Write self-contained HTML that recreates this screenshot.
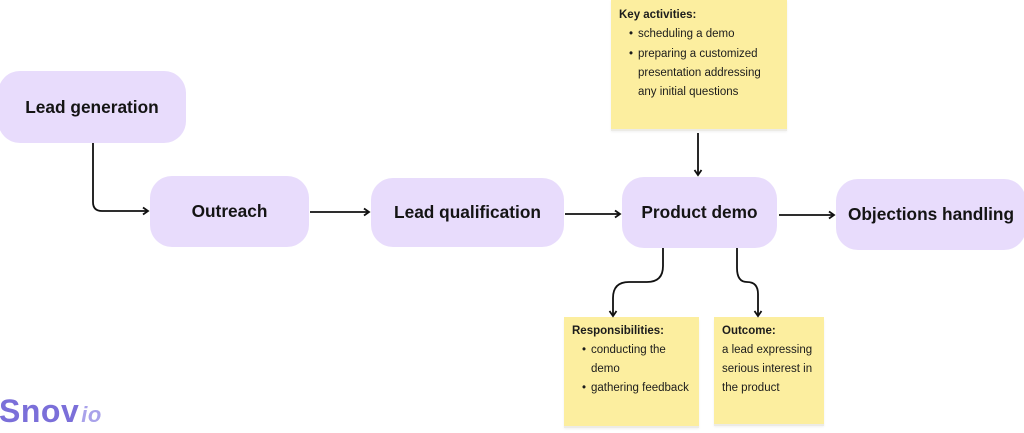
<!DOCTYPE html>
<html>
<head>
<meta charset="utf-8">
<style>
  html,body{margin:0;padding:0;}
  body{width:1024px;height:431px;background:#ffffff;position:relative;overflow:hidden;font-family:"Liberation Sans",Arial,sans-serif;}
  .node{position:absolute;background:#e8dcfc;border-radius:22px;display:flex;align-items:center;justify-content:center;font-weight:bold;font-size:17.3px;color:#141414;white-space:nowrap;}
  .note{position:absolute;background:#fcee9f;box-shadow:0 2px 0 #ecebe6, 0 3px 2px rgba(0,0,0,0.06);}
  .txt{position:absolute;font-size:11.5px;line-height:19px;color:#1c1c1c;white-space:nowrap;}
  .b{font-weight:bold;}
  .bul{position:relative;}
  .bul:before{content:"•";position:absolute;left:-9px;}
  svg{position:absolute;left:0;top:0;}
</style>
</head>
<body>

<div class="node" style="left:-2px;top:71px;width:188px;height:72px;">Lead generation</div>
<div class="node" style="left:150px;top:176px;width:159px;height:71px;">Outreach</div>
<div class="node" style="left:371px;top:178px;width:193px;height:69px;">Lead qualification</div>
<div class="node" style="left:622px;top:177px;width:155px;height:71px;">Product demo</div>
<div class="node" style="left:836px;top:179px;width:190px;height:71px;">Objections handling</div>

<div class="note" style="left:611px;top:-2px;width:176px;height:131px;"></div>
<div class="txt" style="left:619px;top:5.5px;">
  <div class="b">Key activities:</div>
  <div style="padding-left:19px;">
    <div class="bul">scheduling a demo</div>
    <div class="bul" style="margin-top:1px;">preparing a customized</div>
    <div>presentation addressing</div>
    <div>any initial questions</div>
  </div>
</div>

<div class="note" style="left:564px;top:317px;width:135px;height:109px;"></div>
<div class="txt" style="left:572px;top:321.5px;">
  <div class="b">Responsibilities:</div>
  <div style="padding-left:19px;">
    <div class="bul">conducting the</div>
    <div>demo</div>
    <div class="bul">gathering feedback</div>
  </div>
</div>

<div class="note" style="left:714px;top:317px;width:110px;height:107px;"></div>
<div class="txt" style="left:722px;top:321.5px;">
  <div class="b">Outcome:</div>
  <div>a lead expressing</div>
  <div>serious interest in</div>
  <div>the product</div>
</div>

<svg width="1024" height="431" viewBox="0 0 1024 431">
  <defs>
    <marker id="ah" markerWidth="10" markerHeight="10" refX="7" refY="5" orient="auto" markerUnits="userSpaceOnUse">
      <polyline points="2,1.5 7,5 2,8.5" fill="none" stroke="#111" stroke-width="1.8" stroke-linejoin="miter"/>
    </marker>
  </defs>
  <g fill="none" stroke="#111" stroke-width="1.8">
    <path d="M93,143 L93,202 Q93,211 102,211 L148,211" marker-end="url(#ah)"/>
    <path d="M310,212 L369,212" marker-end="url(#ah)"/>
    <path d="M565,214 L620,214" marker-end="url(#ah)"/>
    <path d="M779,215 L834,215" marker-end="url(#ah)"/>
    <path d="M698,133 L698,175" marker-end="url(#ah)"/>
    <path d="M663,248 L663,266 Q663,282 647,282 L629,282 Q613,282 613,298 L613,316" marker-end="url(#ah)"/>
    <path d="M737,248 L737,268 Q737,282 747,282 Q758,282 758,294 L758,316" marker-end="url(#ah)"/>
  </g>
</svg>

<div style="position:absolute;left:-1px;top:393px;font-size:32px;line-height:36px;font-weight:bold;color:#7b6fd9;letter-spacing:0.5px;white-space:nowrap;">Snov<span style="font-size:22px;font-style:italic;font-weight:bold;color:#a9a2ea;letter-spacing:0.5px;margin-left:2px;">io</span></div>

</body>
</html>
